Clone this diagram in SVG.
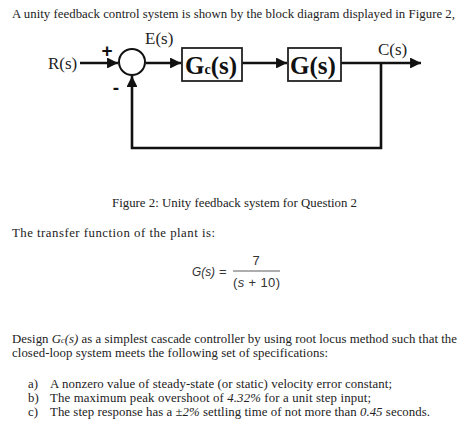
<svg xmlns="http://www.w3.org/2000/svg" width="475" height="442" viewBox="0 0 475 442">
<defs>
<style>
.body{font-family:"Liberation Serif","Times New Roman",serif;font-size:12.8px;fill:#222}
.lbl{font-family:"Liberation Serif","Times New Roman",serif;font-size:17px;fill:#222}
.sgn{font-family:"Liberation Sans","DejaVu Sans",sans-serif;font-size:19px;font-weight:bold;fill:#111}
.blk{font-family:"Liberation Serif","Times New Roman",serif;font-size:25px;font-weight:bold;fill:#111}
.math{font-family:"Liberation Sans","DejaVu Sans",sans-serif;font-size:13px;fill:#333}
.wire{fill:none;stroke:#111;stroke-width:2.6}
.box{fill:#fff;stroke:#222;stroke-width:1.8}
</style>
<marker id="ah" viewBox="0 0 10 10" refX="10" refY="5" markerWidth="4.4" markerHeight="4.2" orient="auto" markerUnits="strokeWidth">
<path d="M0,0 L10,5 L0,10 z" fill="#111"/>
</marker>
</defs>
<rect width="475" height="442" fill="#fff"/>
<text class="body" x="12" y="18" textLength="443" lengthAdjust="spacing">A unity feedback control system is shown by the block diagram displayed in Figure 2,</text>

<g id="connectors">
<line class="wire" x1="80" y1="63" x2="118" y2="63" marker-end="url(#ah)"/>
<line class="wire" x1="146" y1="63" x2="181" y2="63" marker-end="url(#ah)"/>
<line class="wire" x1="242" y1="63" x2="287" y2="63" marker-end="url(#ah)"/>
<line class="wire" x1="341" y1="63" x2="421" y2="63" marker-end="url(#ah)"/>
<path class="wire" d="M381,63 V148 H132 V76" marker-end="url(#ah)"/>
</g>

<g id="sum">
<circle cx="132" cy="62" r="13" fill="#fff" stroke="#111" stroke-width="2"/>
<text class="sgn" x="107" y="57" text-anchor="middle">+</text>
<text class="sgn" x="116" y="94" text-anchor="middle">-</text>
</g>
<g id="R"><text class="lbl" x="48" y="69">R(s)</text></g>
<g id="E"><text class="lbl" x="145" y="44">E(s)</text></g>
<g id="C"><text class="lbl" x="378" y="55">C(s)</text></g>
<g id="Gc">
<rect class="box" x="182" y="48" width="60" height="33"/>
<text class="blk" x="185" y="74">G<tspan font-size="14">c</tspan>(s)</text>
</g>
<g id="G">
<rect class="box" x="288" y="48" width="53" height="33"/>
<text class="blk" x="290" y="74">G(s)</text>
</g>

<text class="body" x="112" y="207" textLength="245" lengthAdjust="spacing">Figure 2: Unity feedback system for Question 2</text>
<text class="body" x="12" y="237" textLength="203" lengthAdjust="spacing">The transfer function of the plant is:</text>

<g id="eq">
<text class="math" x="192" y="276" font-style="italic" textLength="23" lengthAdjust="spacingAndGlyphs">G(s)</text>
<text class="math" x="219" y="276">=</text>
<text class="math" x="256" y="265" text-anchor="middle">7</text>
<line x1="233" y1="271" x2="280" y2="271" stroke="#333" stroke-width="0.8"/>
<text class="math" x="233" y="287" textLength="47" lengthAdjust="spacing">(<tspan font-style="italic">s</tspan> + 10)</text>
</g>

<text class="body" x="12" y="343" textLength="445" lengthAdjust="spacing">Design <tspan font-style="italic">G<tspan font-size="8">c</tspan>(s)</tspan> as a simplest cascade controller by using root locus method such that the</text>
<text class="body" x="12" y="357" textLength="316" lengthAdjust="spacing">closed-loop system meets the following set of specifications:</text>

<text class="body" x="28" y="388">a)</text>
<text class="body" x="50" y="388" textLength="342" lengthAdjust="spacing">A nonzero value of steady-state (or static) velocity error constant;</text>
<text class="body" x="28" y="402">b)</text>
<text class="body" x="50" y="402" textLength="321" lengthAdjust="spacing">The maximum peak overshoot of <tspan font-style="italic">4.32%</tspan> for a unit step input;</text>
<text class="body" x="28" y="416">c)</text>
<text class="body" x="50" y="416" textLength="380" lengthAdjust="spacing">The step response has a ±<tspan font-style="italic">2%</tspan> settling time of not more than <tspan font-style="italic">0.45</tspan> seconds.</text>
</svg>
